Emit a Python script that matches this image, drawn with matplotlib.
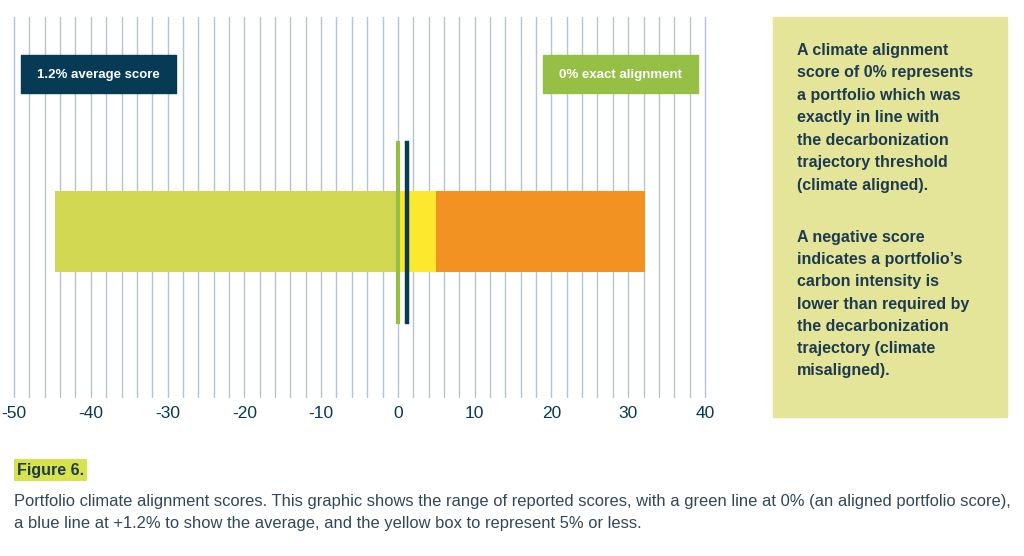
import matplotlib.pyplot as plt
from matplotlib.patches import Rectangle
import numpy as np

# data
range_min = -44.6      # lowest reported score
range_max = 32.2       # highest reported score
band_limit = 5.0       # yellow box: 5% or less
exact_score = 0.0      # green line
average_score = 1.2    # blue line
major_ticks = [-50, -40, -30, -20, -10, 0, 10, 20, 30, 40]
tick_labels = ['-50', '-40', '-30', '-20', '-10', '0', '10', '20', '30', '40']

navy = '#063a55'
text_col = '#1d3b50'

plt.rcParams['font.family'] = ['Liberation Sans', 'DejaVu Sans']

fig = plt.figure(figsize=(10.24, 5.56), dpi=100)
ax = fig.add_axes([10.2 / 1024, 158 / 556, 698.6 / 1024, 381 / 556])
ax.set_xlim(-50.5, 40.5)
ax.set_ylim(0, 1)

# range bars
ax.barh(0.437, exact_score - range_min, left=range_min, height=0.212,
        color='#d3d852', zorder=2)
ax.barh(0.437, band_limit - exact_score, left=exact_score, height=0.212,
        color='#fde82e', zorder=2)
ax.barh(0.437, range_max - band_limit, left=band_limit, height=0.212,
        color='#f29222', zorder=2)

# reference lines
ax.axvline(exact_score, ymin=0.199, ymax=0.669, color='#93bf45', lw=3.0, zorder=3)
ax.axvline(average_score, ymin=0.199, ymax=0.669, color=navy, lw=3.2, zorder=3)

# grid
ax.set_xticks(major_ticks)
ax.set_xticklabels(tick_labels)
ax.set_xticks(np.arange(-50, 41, 2), minor=True)
ax.grid(which='both', axis='x', color='#b3c5d1', lw=1.0, zorder=1)
ax.set_yticks([])
for s in ax.spines.values():
    s.set_visible(False)
ax.tick_params(axis='x', which='both', length=0, pad=6, labelsize=12.5,
               labelcolor=navy)

# label boxes
fig.patches.append(Rectangle((21 / 1024, 1 - 93 / 556), 155 / 1024, 38 / 556,
                             transform=fig.transFigure, color=navy, zorder=5))
fig.text(98.5 / 1024, 1 - 75 / 556, '1.2% average score', color='white',
         fontsize=9.5, fontweight='bold', ha='center', va='center', zorder=6)
fig.patches.append(Rectangle((543 / 1024, 1 - 93 / 556), 155 / 1024, 38 / 556,
                             transform=fig.transFigure, color='#95bf45', zorder=5))
fig.text(620.5 / 1024, 1 - 75 / 556, '0% exact alignment', color='white',
         fontsize=9.5, fontweight='bold', ha='center', va='center', zorder=6)

# side note panel
fig.patches.append(Rectangle((773 / 1024, 1 - 417 / 556), 234 / 1024, 400 / 556,
                             transform=fig.transFigure, color='#e5e59a', zorder=0))
note1 = ('A climate alignment\nscore of 0% represents\na portfolio which was\n'
         'exactly in line with\nthe decarbonization\ntrajectory threshold\n'
         '(climate aligned).')
note2 = ('A negative score\nindicates a portfolio\u2019s\ncarbon intensity is\n'
         'lower than required by\nthe decarbonization\ntrajectory (climate\n'
         'misaligned).')
fig.text(797 / 1024, 1 - 43 / 556, note1, color=text_col, fontsize=11.5,
         fontweight='bold', ha='left', va='top', linespacing=1.62)
fig.text(797 / 1024, 1 - 230 / 556, note2, color=text_col, fontsize=11.5,
         fontweight='bold', ha='left', va='top', linespacing=1.6)

# caption
fig.text(17 / 1024, 1 - 470 / 556, 'Figure 6.', color=text_col, fontsize=11.5,
         fontweight='bold', ha='left', va='center',
         bbox=dict(boxstyle='square,pad=0.2', fc='#d8e34c', ec='none'))
caption = ('Portfolio climate alignment scores. This graphic shows the range of reported '
           'scores, with a green line at 0% (an aligned portfolio score),\n'
           'a blue line at +1.2% to show the average, and the yellow box to '
           'represent 5% or less.')
fig.text(14 / 1024, 1 - 494 / 556, caption, color='#33475a', fontsize=11.9,
         ha='left', va='top', linespacing=1.55)

fig.savefig('out.png', dpi=100)
